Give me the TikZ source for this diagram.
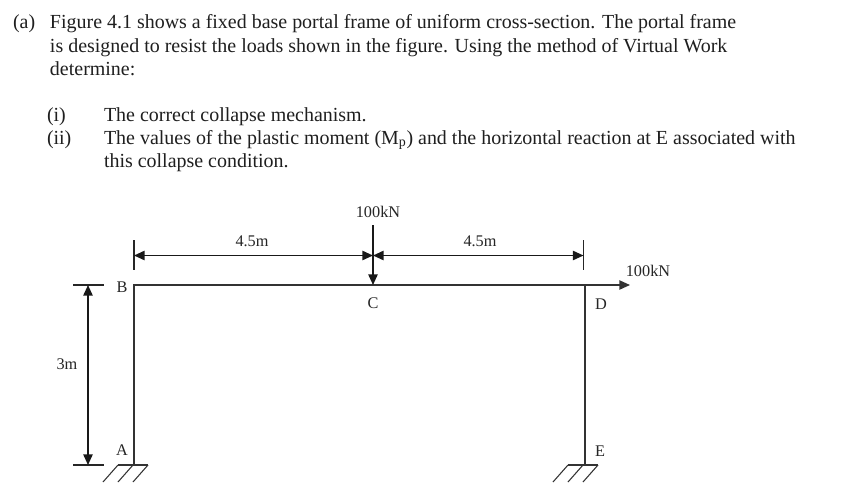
\documentclass[tikz,border=0pt]{standalone}
\usepackage{fontspec}
\setmainfont{Liberation Serif}
\usetikzlibrary{arrows.meta}
\tikzset{
  body/.style={anchor=base west,inner sep=0pt,outer sep=0pt,font=\fontsize{14.97pt}{18pt}\selectfont,text=black!88},
  lab/.style={inner sep=0pt,outer sep=0pt,font=\fontsize{12.2pt}{14pt}\selectfont,text=black!85},
  frame/.style={line width=1pt,black!80},
  thin line/.style={line width=0.8pt,black!85},
  dim/.style={line width=1.2pt,black!90},
  tip/.style={-{Triangle[length=8pt,width=7pt]}},
  bothtips/.style={{Triangle[length=8pt,width=7pt]}-{Triangle[length=8pt,width=7pt]}},
  hatch/.style={line width=0.8pt,black!80}
}
\begin{document}
\begin{tikzpicture}[x=0.75pt,y=-0.75pt]
\useasboundingbox[fill=white] (0,0) rectangle (865,497);
% text
\node[body] (t1a) at (13,28) {(a)};
\node[body] (t1) at (50,28) {Figure 4.1 shows a fixed base portal frame of uniform cross-section. The portal frame};
\node[body] (t2) at (50,52) {is designed to resist the loads shown in the figure. Using the method of Virtual Work};
\node[body] (t3) at (50,75) {determine:};
\node[body] (t4a) at (47,121) {(i)};
\node[body] (t4) at (104,121) {The correct collapse mechanism.};
\node[body] (t5a) at (47,144) {(ii)};
\node[body] (t5) at (104,144) {The values of the plastic moment (M\textsubscript{p}) and the horizontal reaction at E associated with};
\node[body] (t6) at (104,167) {this collapse condition.};
% frame points
\coordinate (A) at (134,465);
\coordinate (B) at (134,285);
\coordinate (C) at (373,285);
\coordinate (D) at (585,285);
\coordinate (E) at (585,465);
\coordinate (F) at (630,285);
\draw[frame] (A) -- (B) -- (D) -- (E);
\draw[frame,tip] (D) -- (F);
% supports
\foreach \n/\x in {a/118,b/133,c/148}{
  \coordinate (g\n) at (\x,465);
  \coordinate (h\n) at (\x-15,482);
  \draw[hatch] (g\n) -- (h\n);
}
\draw[hatch] (ga) -- (gc);
\foreach \n/\x in {a/568,b/583,c/598}{
  \coordinate (k\n) at (\x,465);
  \coordinate (m\n) at (\x-15,482);
  \draw[hatch] (k\n) -- (m\n);
}
\draw[hatch] (ka) -- (kc);
% vertical dimension
\coordinate (v1a) at (73,285); \coordinate (v1b) at (104,285);
\coordinate (v2a) at (73,465); \coordinate (v2b) at (104,465);
\coordinate (v1) at (88,285); \coordinate (v2) at (88,465);
\draw[thin line] (v1a) -- (v1b);
\draw[thin line] (v2a) -- (v2b);
\draw[dim,bothtips] (v1) -- (v2);
% horizontal dimension
\coordinate (d1a) at (134,240); \coordinate (d1b) at (134,270);
\coordinate (d3a) at (583.5,240); \coordinate (d3b) at (583.5,270);
\coordinate (d1) at (134,255.5); \coordinate (d2) at (373,255.5); \coordinate (d3) at (583.5,255.5);
\draw[thin line] (d1a) -- (d1b);
\draw[thin line] (d3a) -- (d3b);
\draw[dim,bothtips] (d1) -- (d2);
\draw[dim,bothtips] (d2) -- (d3);
% load
\coordinate (L) at (373,225);
\draw[dim,tip] (L) -- (C);
% labels
\node[lab] (l45a) at (252,241) {4.5m};
\node[lab] (l45b) at (480,241) {4.5m};
\node[lab] (l100a) at (378,212) {100kN};
\node[lab] (l100b) at (648,271) {100kN};
\node[lab] (l3) at (67,364) {3m};
\node[lab] (lA) at (122,450) {A};
\node[lab] (lB) at (122,287) {B};
\node[lab] (lC) at (373,303) {C};
\node[lab] (lD) at (601,304) {D};
\node[lab] (lE) at (600,451) {E};
\end{tikzpicture}
\end{document}
